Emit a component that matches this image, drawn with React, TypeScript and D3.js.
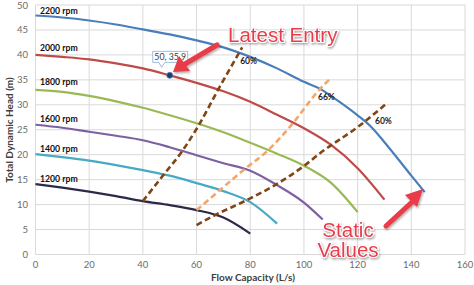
import React from "react";
import * as d3 from "d3";

const xTicks = [0, 20, 40, 60, 80, 100, 120, 140, 160];
const yTicks = [0, 5, 10, 15, 20, 25, 30, 35, 40, 45, 50];

const flow2200 = [0, 10, 20, 30, 40, 50, 60, 70, 80, 90, 100, 106, 110, 120, 125, 130, 140, 145];
const head2200 = [47.9, 47.5, 46.9, 46.1, 45.1, 44.1, 42.9, 41.5, 39.6, 37.3, 34.6, 33.2, 31.8, 27.9, 25.6, 22.5, 15.8, 12.5];

const flow2000 = [0, 10, 20, 30, 40, 50, 60, 70, 80, 90, 100, 110, 120, 130];
const head2000 = [40, 39.6, 39.1, 38.3, 37.3, 35.9, 34.4, 32.7, 30.6, 28.0, 25.3, 22.0, 17.3, 11.0];

const flow1800 = [0, 10, 20, 30, 40, 50, 60, 70, 80, 90, 100, 110, 120];
const head1800 = [33, 32.6, 31.8, 30.7, 29.4, 27.9, 26.3, 24.5, 22.4, 20.2, 17.8, 14.4, 8.5];

const flow1600 = [0, 10, 20, 30, 40, 50, 60, 70, 80, 90, 100, 107];
const head1600 = [26, 25.4, 24.6, 23.8, 22.9, 21.5, 19.9, 18.3, 16.8, 13.9, 10.4, 7.0];

const flow1400 = [0, 10, 20, 30, 40, 50, 60, 70, 80, 90];
const head1400 = [20.1, 19.5, 18.8, 17.9, 16.9, 15.8, 14.3, 12.7, 10.5, 6.2];

const flow1200 = [0, 10, 20, 30, 40, 50, 60, 70, 80];
const head1200 = [14.1, 13.4, 12.6, 11.7, 10.7, 9.9, 8.9, 7.4, 4.2];

const speedLabels = ["2200 rpm", "2000 rpm", "1800 rpm", "1600 rpm", "1400 rpm", "1200 rpm"];
const speedLabelHeads = [48.2, 40.7, 33.9, 26.6, 20.6, 14.6];

const effA_flow = [40, 47.6, 54.5, 60.8, 68, 77];
const effA_head = [10.7, 15.9, 20.6, 25.9, 33, 41.5];
const effB_flow = [60, 68.7, 77.4, 86.7, 94.8, 105.7, 109.7];
const effB_head = [8.9, 12.9, 16.9, 20.9, 25.6, 33, 35.2];
const effC_flow = [60, 66.9, 78.7, 89.2, 100.4, 106, 120.9, 130.2];
const effC_head = [5.9, 7.9, 10.9, 13.9, 17.9, 20.3, 25.9, 30];
const effLabels = ["60%", "66%", "60%"];

const latestFlow = 50;
const latestHead = 35.9;

export default function App() {
  const W = 474, H = 285;
  const x = d3.scaleLinear().domain([0, 160]).range([35.5, 465]);
  const y = d3.scaleLinear().domain([0, 50]).range([254.5, 5]);

  const line = d3
    .line<[number, number]>()
    .x((d) => x(d[0]))
    .y((d) => y(d[1]))
    .curve(d3.curveMonotoneX);

  const zip = (a: number[], b: number[]) => a.map((v, i) => [v, b[i]] as [number, number]);

  const pumps = [
    { f: flow2200, h: head2200, c: "#4a7ebb" },
    { f: flow2000, h: head2000, c: "#be4b48" },
    { f: flow1800, h: head1800, c: "#98b954" },
    { f: flow1600, h: head1600, c: "#7d60a0" },
    { f: flow1400, h: head1400, c: "#46aac5" },
    { f: flow1200, h: head1200, c: "#2b2848" },
  ];

  const effs = [
    { f: effA_flow, h: effA_head, c: "#7f4516" },
    { f: effB_flow, h: effB_head, c: "#f3a66c" },
    { f: effC_flow, h: effC_head, c: "#7f4516" },
  ];

  const font = "Lato, 'Open Sans', sans-serif";
  const annFont = "'Liberation Sans', Arial, sans-serif";
  const red = "#ea3a4a";

  const mx = x(latestFlow), my = y(latestHead);

  return (
    <svg
      width={W}
      height={H}
      style={{ position: "fixed", left: 0, top: 0, background: "#fff" }}
    >
      <defs>
        <filter id="sh" x="-20%" y="-20%" width="140%" height="160%">
          <feDropShadow dx="1" dy="1.5" stdDeviation="1" floodColor="#000" floodOpacity="0.35" />
        </filter>
      </defs>
      <rect width={W} height={H} fill="#fff" />
      {xTicks.map((t) => (
        <line key={"gx" + t} x1={x(t)} x2={x(t)} y1={y(0)} y2={y(50)} stroke="#d9d9d9" strokeWidth={1} />
      ))}
      {yTicks.map((t) => (
        <line key={"gy" + t} x1={x(0)} x2={x(160)} y1={y(t)} y2={y(t)} stroke="#d9d9d9" strokeWidth={1} />
      ))}
      {yTicks.map((t) => (
        <text key={"ty" + t} x={28} y={y(t) + 3.5} fontSize={9.5} fill="#6b6b6b" textAnchor="end" fontFamily={font}>
          {t}
        </text>
      ))}
      {xTicks.map((t) => (
        <text key={"tx" + t} x={x(t)} y={268} fontSize={9.5} fill="#6b6b6b" textAnchor="middle" fontFamily={font}>
          {t}
        </text>
      ))}
      <text x={253} y={281} fontSize={10} fontWeight="bold" fill="#404040" textAnchor="middle" fontFamily={font}>
        Flow Capacity (L/s)
      </text>
      <text
        transform={`translate(13,130) rotate(-90)`}
        fontSize={10}
        fontWeight="bold"
        fill="#404040"
        textAnchor="middle"
        fontFamily={font}
      >
        Total Dynamic Head (m)
      </text>

      {pumps.map((p, i) => (
        <path key={"p" + i} d={line(zip(p.f, p.h)) || ""} fill="none" stroke={p.c} strokeWidth={2.2} />
      ))}
      {effs.map((p, i) => (
        <path
          key={"e" + i}
          d={line(zip(p.f, p.h)) || ""}
          fill="none"
          stroke={p.c}
          strokeWidth={2.6}
          strokeDasharray="6 3.5"
        />
      ))}
      {speedLabels.map((s, i) => (
        <text key={"s" + i} x={40} y={y(speedLabelHeads[i])} fontSize={8.7} fontWeight="bold" fill="#111" fontFamily={font}>
          {s}
        </text>
      ))}
      <text x={x(effA_flow[effA_flow.length - 1]) - 2} y={y(effA_head[effA_head.length - 1]) + 17} fontSize={8.5} fontWeight="bold" fill="#222" fontFamily={font}>
        {effLabels[0]}
      </text>
      <text x={x(effB_flow[effB_flow.length - 1]) - 12} y={y(effB_head[effB_head.length - 1]) + 21} fontSize={8.5} fontWeight="bold" fill="#222" fontFamily={font}>
        {effLabels[1]}
      </text>
      <text x={x(effC_flow[effC_flow.length - 1]) - 10} y={y(effC_head[effC_head.length - 1]) + 19} fontSize={8.5} fontWeight="bold" fill="#222" fontFamily={font}>
        {effLabels[2]}
      </text>

      {/* latest entry marker and label */}
      <circle cx={mx} cy={my} r={3} fill="#1f3a64" stroke="#5b7fb0" strokeWidth={0.8} />
      <g>
        <path
          d={`M${mx - 17},${my - 24} H${mx + 18} V${my - 13} H${mx - 5} L${mx - 8},${my - 8} L${mx - 11},${my - 13} H${mx - 17} Z`}
          fill="#fff"
          stroke="#8fb4d9"
          strokeWidth={0.9}
        />
        <text x={mx + 0.5} y={my - 15.5} fontSize={8.8} fill="#404040" textAnchor="middle" fontFamily={font}>
          {`${latestFlow}, ${latestHead}`}
        </text>
      </g>

      {/* arrows */}
      <g filter="url(#sh)">
        <line x1={217} y1={45} x2={185} y2={64} stroke={red} strokeWidth={5} strokeLinecap="round" />
        <path d="M173,72 L179,56 L190,71 Z" fill={red} />
        <line x1={386} y1={226} x2={412} y2={202} stroke={red} strokeWidth={5} strokeLinecap="round" />
        <path d="M423,189 L405,195 L417,207 Z" fill={red} />
      </g>

      <g filter="url(#sh)" fontFamily={annFont} fontSize={20.5} fill={red} stroke="#fff" strokeWidth={2} style={{ paintOrder: "stroke" }}>
        <text x={228} y={42}>Latest Entry</text>
        <text x={348} y={237} textAnchor="middle">Static</text>
        <text x={348} y={257} textAnchor="middle">Values</text>
      </g>
    </svg>
  );
}
